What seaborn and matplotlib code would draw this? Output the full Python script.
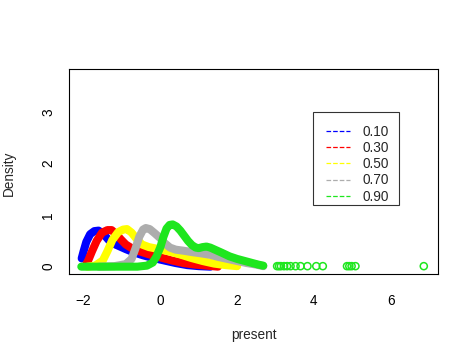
import numpy as np
import pandas as pd
import matplotlib
matplotlib.use("Agg")
import matplotlib.pyplot as plt
from matplotlib.lines import Line2D
from matplotlib.legend_handler import HandlerLine2D
import seaborn as sns

# density curves (x = present, y = Density)
x_blue = [-2.05, -2.0, -1.93, -1.83, -1.72, -1.61, -1.48, -1.35, -1.2, -1.05, -0.9, -0.7, -0.45, -0.2, 0.1, 0.4, 0.7, 1.0, 1.3]
y_blue = [0.16, 0.30, 0.48, 0.63, 0.69, 0.70, 0.63, 0.52, 0.44, 0.39, 0.34, 0.28, 0.22, 0.17, 0.12, 0.07, 0.03, 0.01, 0.0]

x_red = [-1.95, -1.88, -1.78, -1.66, -1.52, -1.38, -1.27, -1.15, -1.03, -0.9, -0.75, -0.55, -0.3, 0.0, 0.3, 0.6, 0.9, 1.2, 1.5]
y_red = [0.02, 0.12, 0.30, 0.50, 0.66, 0.71, 0.71, 0.63, 0.53, 0.43, 0.36, 0.30, 0.24, 0.18, 0.12, 0.07, 0.04, 0.02, 0.0]

x_yellow = [-1.9, -1.7, -1.5, -1.38, -1.25, -1.1, -0.97, -0.87, -0.75, -0.62, -0.48, -0.3, -0.1, 0.2, 0.5, 0.8, 1.1, 1.4, 1.7, 2.0]
y_yellow = [0.0, 0.02, 0.12, 0.30, 0.52, 0.67, 0.72, 0.73, 0.66, 0.54, 0.43, 0.38, 0.35, 0.30, 0.24, 0.17, 0.11, 0.06, 0.03, 0.01]

x_gray = [-1.6, -1.2, -0.9, -0.75, -0.65, -0.55, -0.45, -0.38, -0.28, -0.15, 0.0, 0.12, 0.25, 0.4, 0.6, 0.85, 1.05, 1.3, 1.5, 1.75, 2.0, 2.25, 2.5, 2.68]
y_gray = [0.0, 0.01, 0.05, 0.15, 0.35, 0.58, 0.72, 0.75, 0.73, 0.65, 0.55, 0.45, 0.37, 0.33, 0.31, 0.28, 0.26, 0.23, 0.19, 0.15, 0.11, 0.07, 0.04, 0.01]

x_green = [-2.06, -1.5, -1.0, -0.6, -0.35, -0.2, -0.1, 0.0, 0.08, 0.16, 0.24, 0.32, 0.42, 0.52, 0.62, 0.72, 0.82, 0.92, 1.0, 1.1, 1.2, 1.3, 1.45, 1.6, 1.8, 2.0, 2.2, 2.4, 2.55, 2.68]
y_green = [0.0, 0.0, 0.0, 0.0, 0.02, 0.08, 0.2, 0.38, 0.58, 0.74, 0.81, 0.82, 0.78, 0.70, 0.60, 0.50, 0.42, 0.37, 0.36, 0.38, 0.39, 0.37, 0.32, 0.27, 0.20, 0.15, 0.11, 0.07, 0.04, 0.02]

# isolated green points in the right tail
green_tail_x = [3.04, 3.09, 3.14, 3.22, 3.30, 3.39, 3.52, 3.65, 3.83, 4.06, 4.23, 4.86, 4.92, 4.98, 5.08, 6.86]
green_tail_y = [0.01, 0.01, 0.01, 0.01, 0.01, 0.01, 0.01, 0.01, 0.01, 0.01, 0.01, 0.01, 0.01, 0.01, 0.01, 0.01]

labels = ["0.10", "0.30", "0.50", "0.70", "0.90"]
colors = ["#0000FF", "#FF0000", "#FFFF00", "#ADADAD", "#1EE61E"]

curves = [(x_blue, y_blue), (x_red, y_red), (x_yellow, y_yellow), (x_gray, y_gray), (x_green, y_green)]
df = pd.concat([pd.DataFrame({"present": xs, "Density": ys, "q": lab})
                for (xs, ys), lab in zip(curves, labels)], ignore_index=True)
tail = pd.DataFrame({"present": green_tail_x, "Density": green_tail_y})

sns.set_style("white")
plt.rcParams["font.family"] = ["Liberation Sans", "DejaVu Sans"]

fig = plt.figure(figsize=(4.74, 3.61), dpi=100)
ax = fig.add_axes([69 / 474, 1 - 274.3 / 361, 369 / 474, 205 / 361])

for lab, col in zip(labels, colors):
    sub = df[df["q"] == lab]
    sns.lineplot(data=sub, x="present", y="Density", color=col, sort=False,
                 estimator=None, linewidth=5.8, solid_capstyle="round",
                 solid_joinstyle="round", ax=ax, legend=False)

sns.scatterplot(data=tail, x="present", y="Density", ax=ax, marker="o",
                facecolor="none", edgecolor=colors[4], linewidth=1.1, s=26,
                legend=False)

ax.set_xlim(-2.38, 7.23)
ax.set_ylim(-0.148, 3.83)
ax.set_xticks([-2, 0, 2, 4, 6])
ax.set_yticks([0, 1, 2, 3])
ax.tick_params(axis="both", direction="out", length=5, width=0.8,
               colors="black", labelsize=9.8)
ax.tick_params(axis="x", pad=9.5)
ax.tick_params(axis="y", pad=5)
for lab in ax.get_yticklabels():
    lab.set_rotation(90)
    lab.set_va("center")
for sp in ax.spines.values():
    sp.set_visible(True)
    sp.set_color("black")
    sp.set_linewidth(0.8)

ax.set_xlabel("present", fontsize=9.8)
ax.set_ylabel("Density", fontsize=9.8)
ax.xaxis.label.set_va("center")
ax.yaxis.label.set_va("center")
ax.xaxis.set_label_coords(0.5, -0.296)
ax.yaxis.set_label_coords(-0.162, 0.494)

handles = [Line2D([0], [0], color=c, linestyle="--", linewidth=0.9) for c in colors]
leg = ax.legend(handles, labels, loc="upper left", mode="expand",
                bbox_to_anchor=(0.661, 0.343, 0.233, 0.449), borderaxespad=0,
                fontsize=9.8, frameon=True, fancybox=False, handlelength=2.62,
                handletextpad=0.96, borderpad=0.1, labelspacing=0.165,
                title=" ", title_fontsize=6.3,
                handler_map={Line2D: HandlerLine2D(xpad=0.85)})
leg.get_frame().set_edgecolor("black")
leg.get_frame().set_linewidth(0.8)

fig.savefig("out.png", dpi=100)
